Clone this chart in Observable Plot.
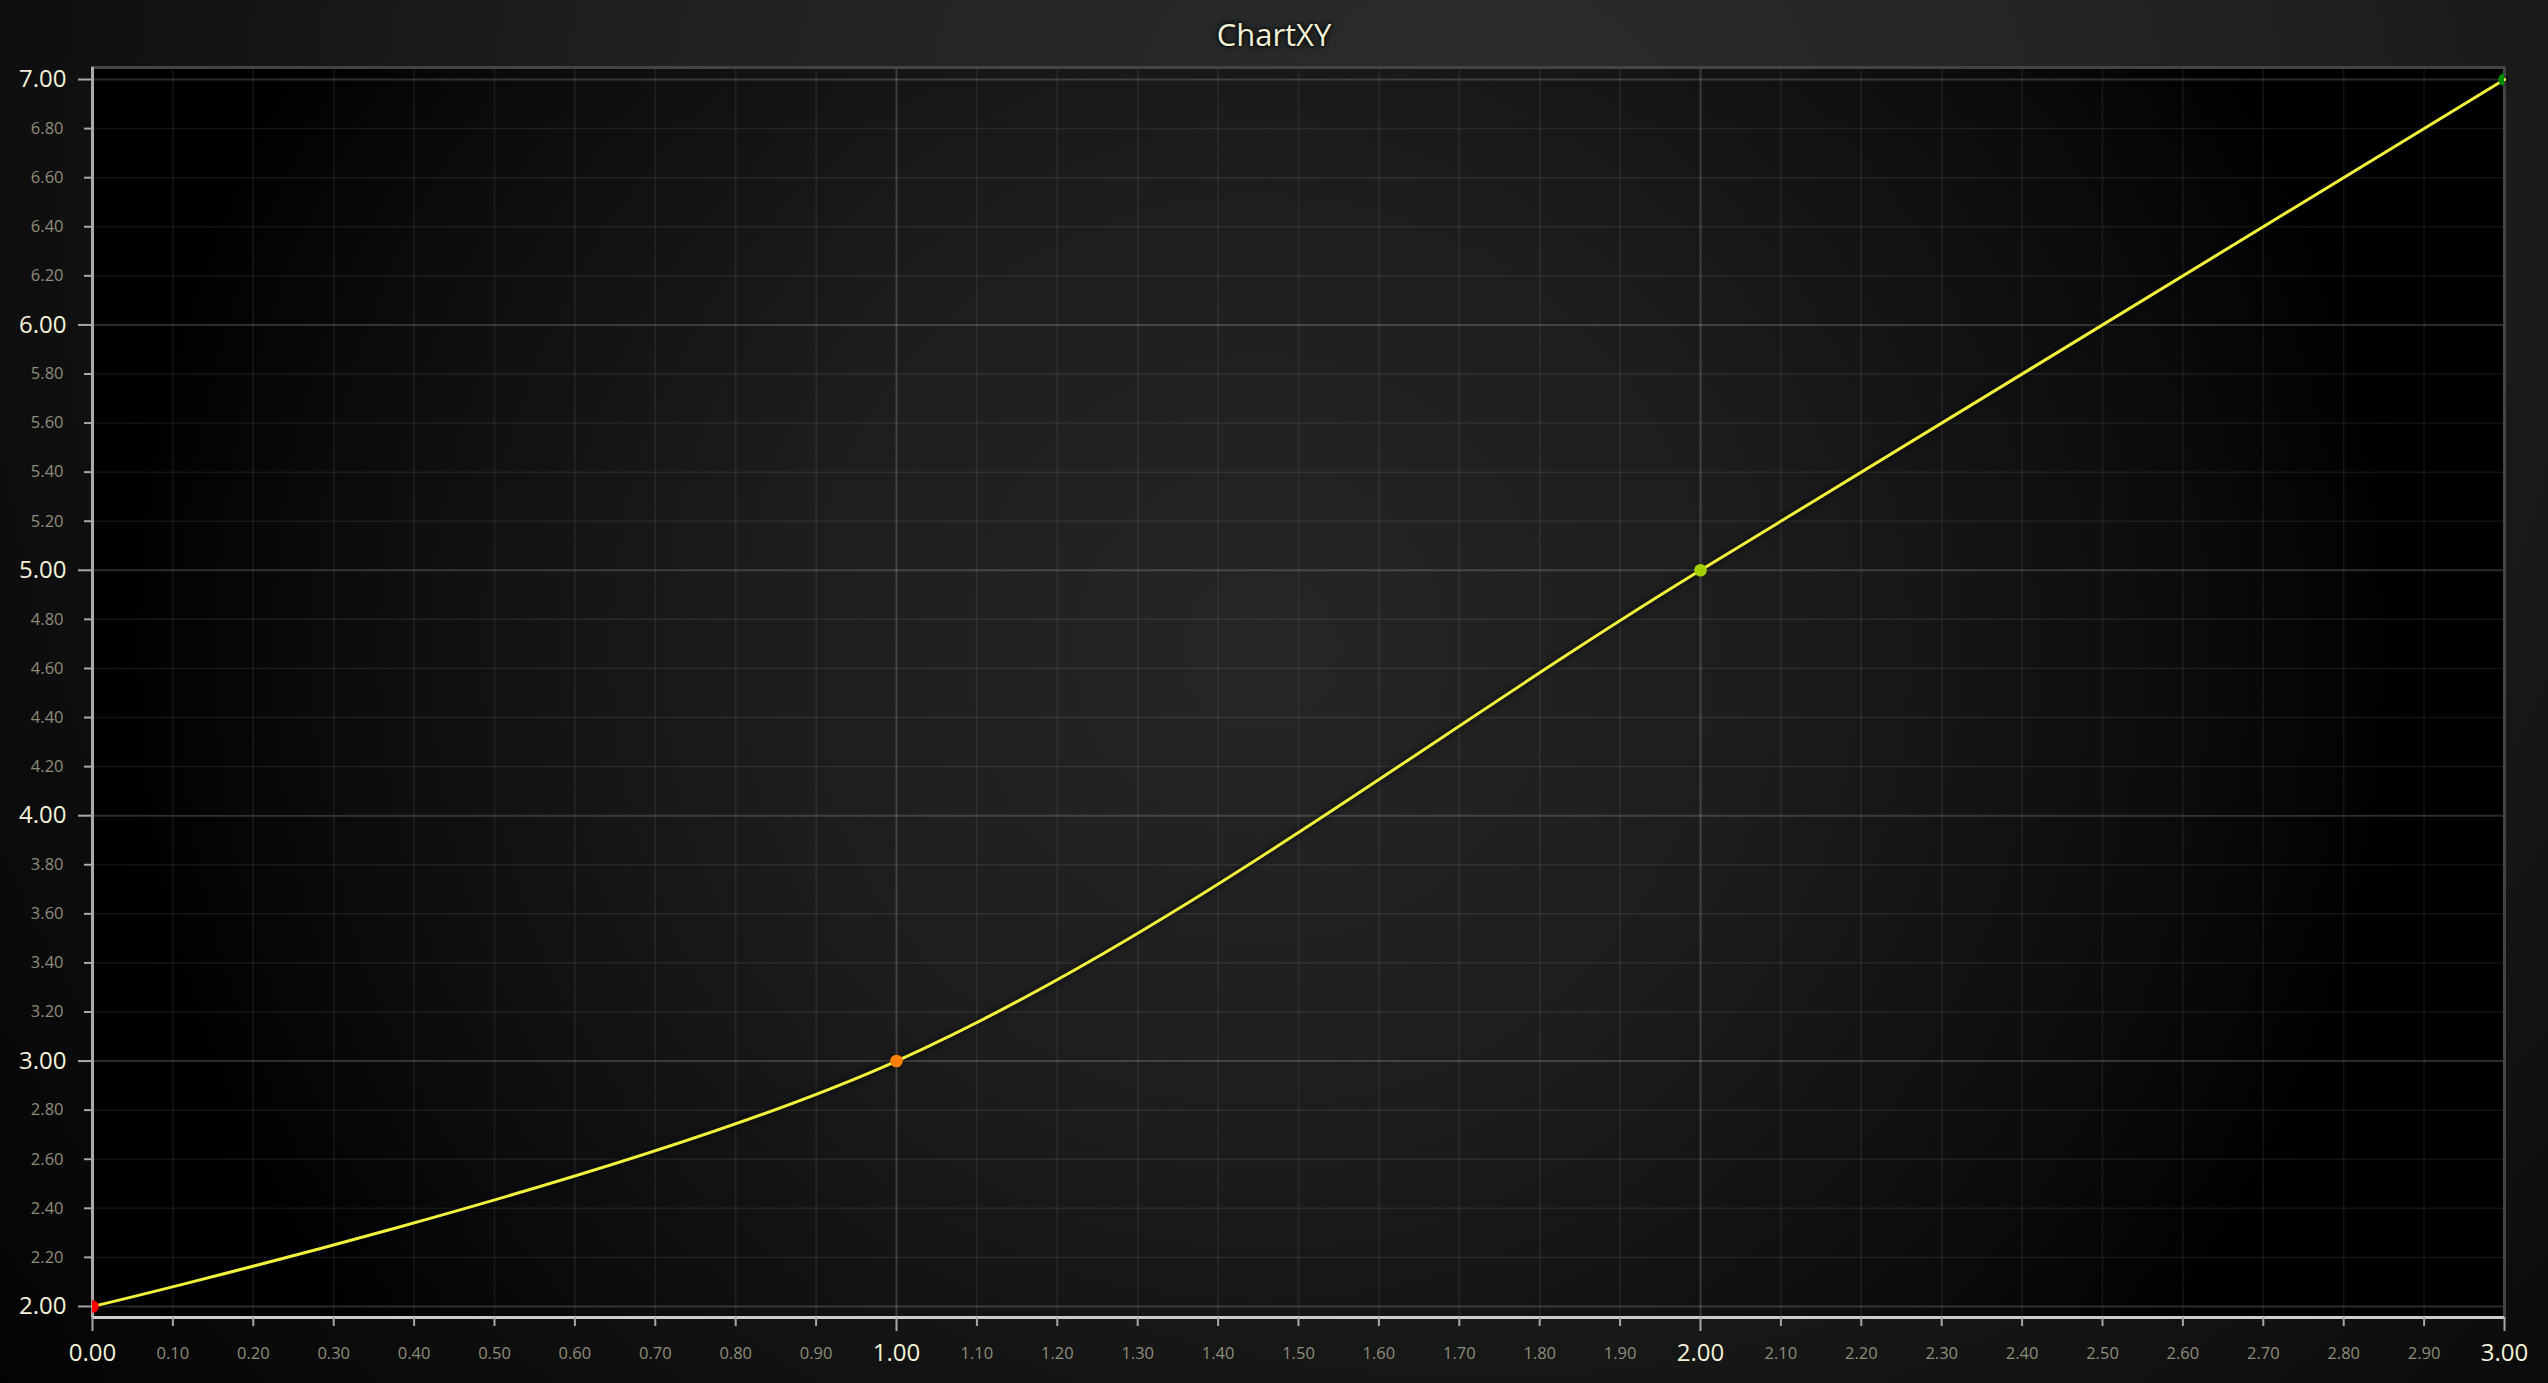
<!DOCTYPE html>
<html>
<head>
<meta charset="utf-8">
<script src="https://cdn.jsdelivr.net/npm/d3@7"></script>
<script src="https://cdn.jsdelivr.net/npm/@observablehq/plot@0.6"></script>
<style>
  html, body { margin: 0; padding: 0; background: #050505; overflow: hidden; }
  #wrap {
    width: 2548px; height: 1383px; position: relative;
    background: radial-gradient(circle at 58% 15%, #2c2d2d 0px, #202121 800px, #101010 1400px, #030303 1900px);
    font-family: "Open Sans", sans-serif;
  }
  #title {
    box-sizing: border-box; height: 60px; padding-top: 19px;
    font-size: 31px; line-height: 1; text-align: center; color: #f3f1d6;
    text-shadow: 0 0 6px #000, 0 0 3px #000;
  }
  g[aria-label="line"] path { filter: drop-shadow(0 0 3px rgba(0,0,0,0.95)); }
</style>
</head>
<body>
<div id="wrap"><div id="title"></div><div id="chart"></div></div>
<script>
// ---- data ----
const title = "ChartXY";
const xs = [0, 1, 2, 3];
const ys = [2, 3, 5, 7];
const pointColors = ["#ff0000", "#ff8000", "#a2d000", "#008a00"];

// ---- tick labels ----
const xMajorTicks = [0, 1, 2, 3];
const xMinorTicks = [0.1, 0.2, 0.3, 0.4, 0.5, 0.6, 0.7, 0.8, 0.9,
                     1.1, 1.2, 1.3, 1.4, 1.5, 1.6, 1.7, 1.8, 1.9,
                     2.1, 2.2, 2.3, 2.4, 2.5, 2.6, 2.7, 2.8, 2.9];
const yMajorTicks = [2, 3, 4, 5, 6, 7];
const yMinorTicks = [2.2, 2.4, 2.6, 2.8, 3.2, 3.4, 3.6, 3.8, 4.2, 4.4, 4.6, 4.8,
                     5.2, 5.4, 5.6, 5.8, 6.2, 6.4, 6.6, 6.8];

const xDomain = [0, 3];
const yDomain = [1.955, 7.049];

const points = xs.map((x, i) => ({x, y: ys[i], color: pointColors[i]}));
const fmt = d3.format(".2f");

document.getElementById("title").textContent = title;

const majorText = "#f4f2d8";
const minorText = "#8e8d79";
const tickColor = "#a8a8a8";

const chart = Plot.plot({
  width: 2548,
  height: 1323,
  marginTop: 7,
  marginBottom: 66,
  marginLeft: 92,
  marginRight: 44,
  x: {domain: xDomain},
  y: {domain: yDomain},
  color: {type: "identity"},
  style: {background: "transparent", fontFamily: "'Open Sans', sans-serif", color: "#cccccc", overflow: "visible"},
  marks: [
    Plot.frame({fill: "url(#plotBg)", stroke: "none"}),
    Plot.gridX(xMinorTicks, {stroke: "#ffffff", strokeOpacity: 0.075, strokeWidth: 1.5}),
    Plot.gridY(yMinorTicks, {stroke: "#ffffff", strokeOpacity: 0.075, strokeWidth: 1.5}),
    Plot.gridX(xMajorTicks, {stroke: "#ffffff", strokeOpacity: 0.17, strokeWidth: 2}),
    Plot.gridY(yMajorTicks, {stroke: "#ffffff", strokeOpacity: 0.17, strokeWidth: 2}),
    Plot.frame({stroke: "#444444", strokeWidth: 3}),
    Plot.ruleX([xDomain[0]], {stroke: "#aaaaaa", strokeWidth: 3}),
    Plot.ruleY([yDomain[0]], {stroke: "#cccccc", strokeWidth: 3}),
    // x axis
    Plot.axisX(xMinorTicks, {anchor: "bottom", label: null, tickSize: 9, tickPadding: 21, fontSize: 16.5,
      stroke: tickColor, strokeWidth: 2, fill: minorText, tickFormat: fmt}),
    Plot.axisX(xMajorTicks, {anchor: "bottom", label: null, tickSize: 14, tickPadding: 12.5, fontSize: 24,
      stroke: tickColor, strokeWidth: 2, fill: majorText, tickFormat: fmt}),
    // y axis
    Plot.axisY(yMinorTicks, {anchor: "left", label: null, tickSize: 8, tickPadding: 21, fontSize: 16.5,
      stroke: tickColor, strokeWidth: 2, fill: minorText, tickFormat: fmt}),
    Plot.axisY(yMajorTicks, {anchor: "left", label: null, tickSize: 14, tickPadding: 12, fontSize: 24,
      stroke: tickColor, strokeWidth: 2, fill: majorText, tickFormat: fmt}),
    // series
    Plot.line(points, {x: "x", y: "y", stroke: "#f2f23c", strokeWidth: 3, curve: "catmull-rom"}),
    Plot.dot(points, {x: "x", y: "y", fill: "color", r: 6.3, clip: true})
  ]
});

// plot-area radial background
const defs = d3.select(chart).insert("defs", ":first-child");
const grad = defs.append("radialGradient")
  .attr("id", "plotBg").attr("gradientUnits", "userSpaceOnUse")
  .attr("cx", 1260).attr("cy", 590).attr("r", 1150);
[[0, "#262626"], [0.42, "#1d1d1d"], [0.8, "#0c0c0c"], [1, "#000000"]].forEach(([o, c]) =>
  grad.append("stop").attr("offset", o).attr("stop-color", c));

document.getElementById("chart").appendChild(chart);
</script>
</body>
</html>
